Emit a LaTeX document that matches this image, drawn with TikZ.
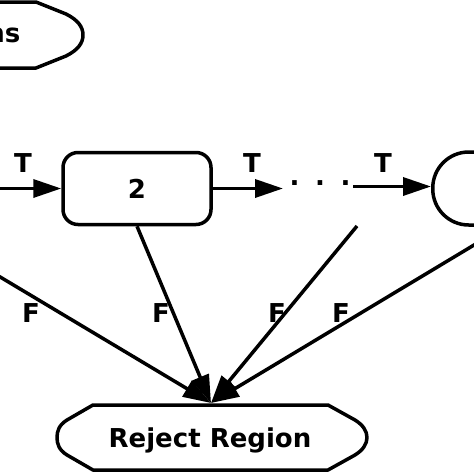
\documentclass[tikz,border=0pt]{standalone}
\usepackage{fontspec}
\setmainfont{DejaVu Sans}
\usetikzlibrary{arrows.meta}
\begin{document}
\begin{tikzpicture}[x=1pt,y=-1pt,line width=3.5pt,line join=round,
  txt/.style={font=\bfseries\fontsize{26}{30}\selectfont,inner sep=0pt},
  arr/.style={-{Triangle[length=28pt,width=18pt]}},
  boxnode/.style={draw,rounded corners=15pt,minimum width=148pt,minimum height=72pt,txt}]
\useasboundingbox (0,0) rectangle (474,474);
\clip (0,0) rectangle (474,474);
% top-left terminal (partly outside)
\draw (36,2) -- (66,14) .. controls (78,20) and (83,27) .. (83,35)
      .. controls (83,43) and (78,50) .. (66,56) -- (36,68) -- (-80,68) -- (-80,2) -- cycle;
\node[txt,anchor=base east] (acc) at (22,42) {ns};
% state nodes
\node[boxnode] (n2) at (137,188.5) {2};
\node[draw,rounded corners=36pt,minimum width=160pt,minimum height=73pt,anchor=west] (n3) at (431,188.5) {};
% reject region
\draw (93,405) -- (67,420) .. controls (59,425) and (57,431) .. (57,437.5)
      .. controls (57,444) and (59,450) .. (67,455) -- (93,470) -- (328,470)
      -- (355,455) .. controls (363,450) and (367,444) .. (367,437.5)
      .. controls (367,431) and (363,425) .. (355,420) -- (328,405) -- cycle;
\node[txt,anchor=base] (rej) at (210,447) {Reject Region};
\coordinate (rtop) at (211,403);
% coordinates
\coordinate (in) at (-40,188.5);
\coordinate (d1) at (283,188.5);
\coordinate (d2) at (353,186.5);
\coordinate (l1) at (-40,253);
\coordinate (l3) at (357,226);
\coordinate (l4) at (520,217.4);
\node[txt,anchor=base] (dots) at (320,185.5) {.\hspace{15.6pt}.\hspace{15.6pt}.};
% T transitions
\draw[arr] (in) -- (n2.west);
\draw[arr] (n2.east) -- (d1);
\draw[arr] (d2) -- (n3.west |- d2);
\node[txt] (t1) at (23,163) {T};
\node[txt] (t2) at (252,163) {T};
\node[txt] (t3) at (383,163) {T};
% F transitions
\draw[arr] (l1) -- (rtop);
\draw[arr] (n2.south) -- (rtop);
\draw[arr] (l3) -- (rtop);
\draw[arr] (l4) -- (rtop);
\node[txt] (f1) at (31,313) {F};
\node[txt] (f2) at (161,313) {F};
\node[txt] (f3) at (277,313) {F};
\node[txt] (f4) at (341,313) {F};
\end{tikzpicture}
\end{document}
